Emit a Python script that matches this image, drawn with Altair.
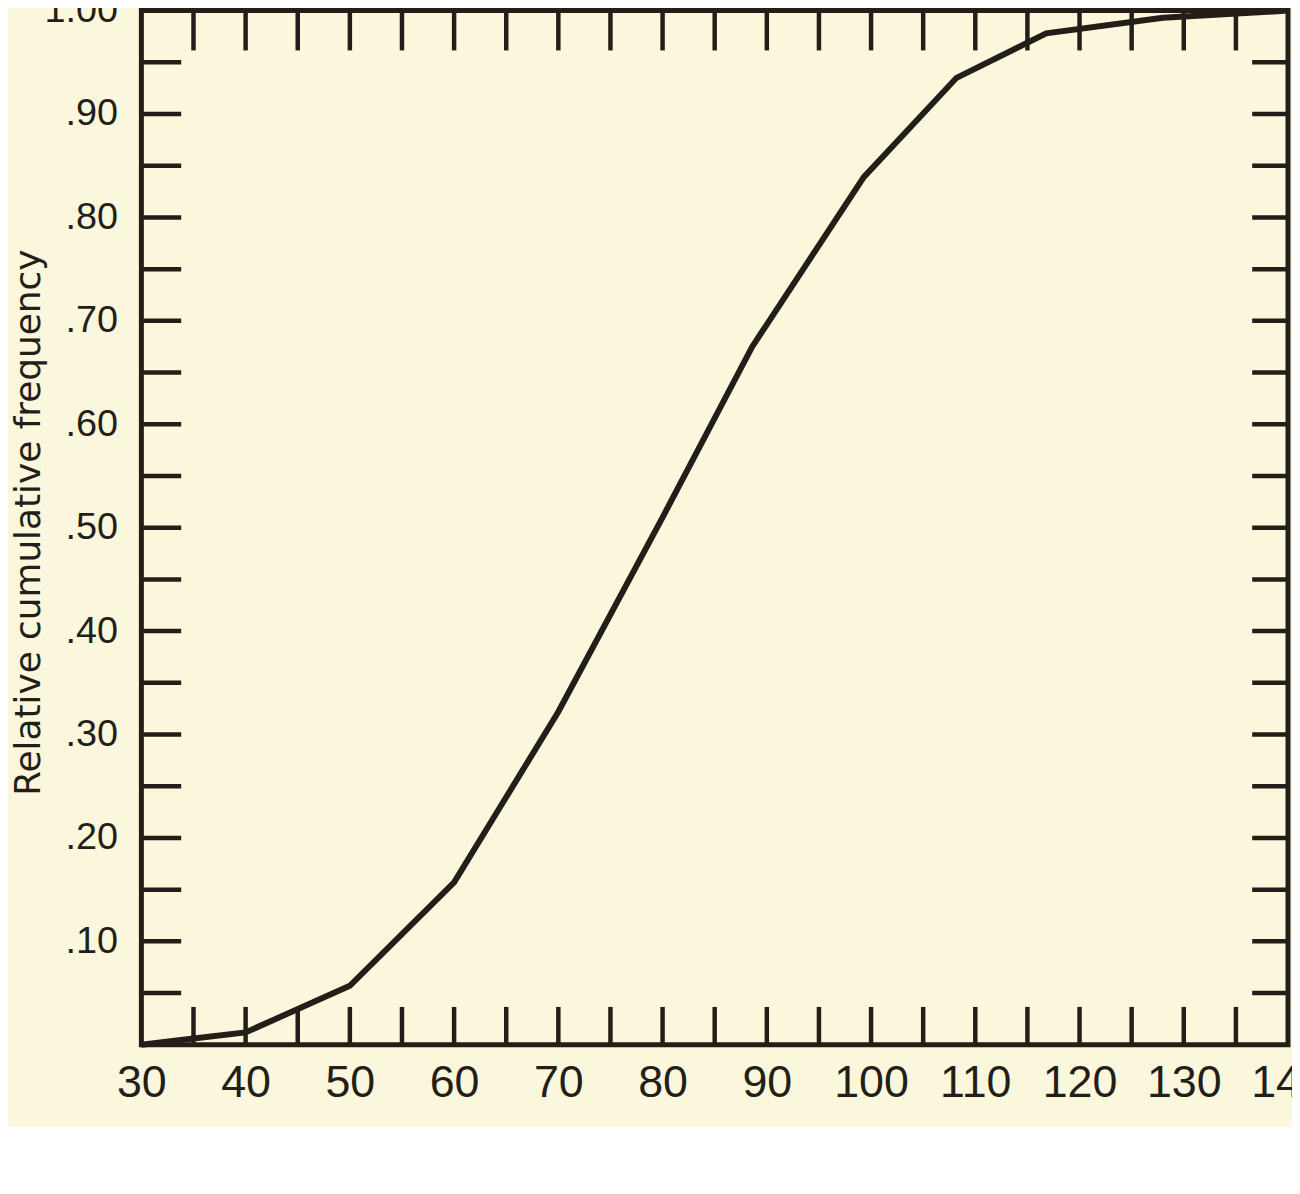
import altair as alt
import pandas as pd

# Curve
x_vals = [30, 35, 40, 50, 60, 70, 80, 88.6, 99.3, 108.2, 116.8, 128, 140]
cum_freq = [0.0, 0.006, 0.012, 0.057, 0.157, 0.322, 0.51, 0.675, 0.839, 0.935, 0.978, 0.993, 1.0]

# Axis tick marks and labels
x_tick_marks = [35, 40, 45, 50, 55, 60, 65, 70, 75, 80, 85, 90, 95, 100, 105, 110, 115, 120, 125, 130, 135]
y_tick_marks = [0.05, 0.10, 0.15, 0.20, 0.25, 0.30, 0.35, 0.40, 0.45, 0.50,
                0.55, 0.60, 0.65, 0.70, 0.75, 0.80, 0.85, 0.90, 0.95]
x_label_values = [30, 40, 50, 60, 70, 80, 90, 100, 110, 120, 130, 140]
y_label_values = [0.1, 0.2, 0.3, 0.4, 0.5, 0.6, 0.7, 0.8, 0.9, 1.0]

INK = "#231f18"
BG = "#faf7dc"
W, H = 1152, 1039

line_df = pd.DataFrame({"x": x_vals, "y": cum_freq})
xt_df = pd.DataFrame({"x": x_tick_marks})
yt_df = pd.DataFrame({"y": y_tick_marks})

xscale = alt.Scale(domain=[30, 140], nice=False, zero=False)
yscale = alt.Scale(domain=[0, 1], nice=False, zero=False)

x_axis = alt.Axis(values=x_label_values, ticks=False, domain=False, grid=False,
                  labelFontSize=45, labelFont="Liberation Sans", labelColor=INK,
                  labelPadding=16, labelFlush=False, labelOverlap=False, title="")
y_axis = alt.Axis(values=y_label_values, ticks=False, domain=False, grid=False,
                  labelFontSize=38, labelFont="Liberation Sans", labelColor=INK,
                  labelPadding=24, labelOverlap=False,
                  labelExpr="replace(format(datum.value, '.2f'), '0.', '.')",
                  title="Relative cumulative frequency", titleFont="DejaVu Sans",
                  titleFontSize=36, titleFontWeight="normal", titleColor=INK,
                  titleAngle=270, titleAlign="center", titleBaseline="middle",
                  titleX=-113, titleY=514)

line = alt.Chart(line_df).mark_line(color=INK, strokeWidth=6, strokeJoin="miter").encode(
    x=alt.X("x:Q", scale=xscale, axis=x_axis),
    y=alt.Y("y:Q", scale=yscale, axis=y_axis),
)

tick_style = dict(color=INK, strokeWidth=4.5)

bottom_ticks = alt.Chart(xt_df).mark_rule(**tick_style).encode(
    x=alt.X("x:Q", scale=xscale, axis=x_axis),
    y=alt.value(H), y2=alt.value(H - 38),
)
top_ticks = alt.Chart(xt_df).mark_rule(**tick_style).encode(
    x=alt.X("x:Q", scale=xscale, axis=x_axis),
    y=alt.value(0), y2=alt.value(40),
)
left_ticks = alt.Chart(yt_df).mark_rule(**tick_style).encode(
    y=alt.Y("y:Q", scale=yscale, axis=y_axis),
    x=alt.value(0), x2=alt.value(40),
)
right_ticks = alt.Chart(yt_df).mark_rule(**tick_style).encode(
    y=alt.Y("y:Q", scale=yscale, axis=y_axis),
    x=alt.value(W - 36), x2=alt.value(W),
)

chart = alt.layer(line, bottom_ticks, top_ticks, left_ticks, right_ticks).properties(
    width=W, height=H,
    autosize=alt.AutoSizeParams(type="none"),
    padding={"left": 134, "top": 0, "right": 4, "bottom": 80},
    background=BG,
).configure_view(stroke=INK, strokeWidth=5)

chart.save("out.html", embed_options={"renderer": "svg", "actions": False})
